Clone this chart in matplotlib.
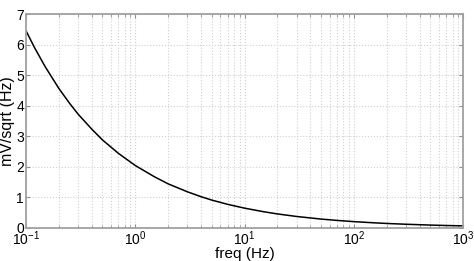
import matplotlib
matplotlib.use("Agg")
import matplotlib.pyplot as plt
from matplotlib.ticker import LogLocator, NullFormatter

plt.rcParams['font.family'] = ['Liberation Sans', 'DejaVu Sans']

# values
freq = [0.1, 0.12, 0.15, 0.2, 0.25, 0.3, 0.4, 0.5, 0.7, 1.0, 1.5, 2.0, 3.0,
        4.0, 5.0, 7.0, 10.0, 15.0, 20.0, 30.0, 50.0, 70.0, 100.0, 150.0,
        200.0, 300.0, 500.0, 700.0, 1000.0]
noise = [6.45, 5.89, 5.27, 4.56, 4.08, 3.72, 3.23, 2.88, 2.44, 2.04, 1.67,
         1.44, 1.18, 1.02, 0.91, 0.77, 0.645, 0.527, 0.456, 0.372, 0.288,
         0.244, 0.204, 0.167, 0.144, 0.118, 0.091, 0.077, 0.065]

fig = plt.figure(figsize=(4.74, 2.61), dpi=100)
ax = fig.add_axes([0.055, 0.127, 0.922, 0.819])

ax.semilogx(freq, noise, color='black', lw=1.1)

ax.set_xlim(0.1, 1000)
ax.set_ylim(0, 7)
ax.set_yticks(range(0, 8))
ax.xaxis.set_major_locator(LogLocator(base=10, numticks=10))
ax.xaxis.set_minor_locator(LogLocator(base=10, subs=range(2, 10), numticks=20))
ax.xaxis.set_minor_formatter(NullFormatter())

ax.grid(True, which='major', color='#d0d0d0', ls=':', lw=0.8)
ax.grid(True, which='minor', axis='x', color='#d0d0d0', ls=':', lw=0.8)

for s in ax.spines.values():
    s.set_color('#a0a0a0')
    s.set_linewidth(1.3)
ax.tick_params(which='both', direction='in', top=True, right=True,
               color='#909090', labelsize=10, pad=1.5)
ax.tick_params(axis='x', pad=1)
ax.tick_params(which='major', length=3)
ax.tick_params(which='minor', length=2)

ax.set_xlabel('freq (Hz)', fontsize=11, va='top')
ax.xaxis.set_label_coords(0.5, -0.088)
ax.set_ylabel('mV/sqrt (Hz)', fontsize=11.5, labelpad=1)

fig.savefig('out.png', dpi=100)
